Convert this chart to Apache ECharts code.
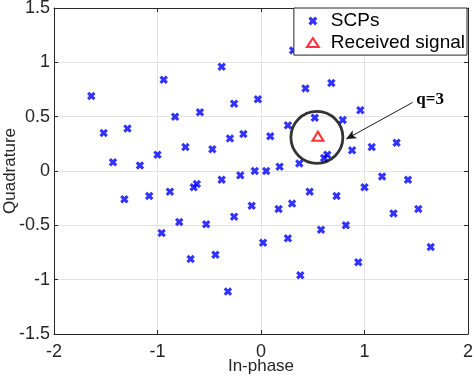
<!DOCTYPE html>
<html>
<head>
<meta charset="utf-8">
<script src="https://cdn.jsdelivr.net/npm/echarts@6/dist/echarts.min.js"></script>
<style>
html,body{margin:0;padding:0;background:#fff;}
#chart{width:474px;height:378px;}
</style>
</head>
<body>
<div id="chart"></div>
<script>
// SCP constellation points (in-phase, quadrature)
const scpI = [-1.64,-1.52,-1.43,-1.29,-1.17,-1.00,-0.94,-0.83,-0.73,-0.59,-0.47,-0.38,-0.26,-0.30,-0.38,-0.62,
              -0.65,-0.88,-0.20,0.31,0.43,0.68,-0.03,0.96,0.52,0.79,0.26,-0.17,0.09,0.88,1.07,1.31,
              0.64,0.61,0.37,0.18,0.05,-0.06,1.17,1.42,1.00,0.47,-1.32,-1.08,-0.79,-0.96,-0.53,-0.26,
              -0.68,-0.44,-0.32,-0.09,0.17,0.30,0.73,1.28,1.52,0.02,0.26,0.58,0.82,1.64,0.94,0.38];
const scpQ = [0.69,0.35,0.08,0.39,0.05,0.15,0.84,0.50,0.22,0.54,0.20,0.96,0.62,0.30,-0.08,-0.12,
              -0.15,-0.19,-0.04,1.11,0.76,0.81,0.66,0.56,0.49,0.47,0.42,0.34,0.32,0.19,0.22,0.26,
              0.15,0.12,0.07,0.04,0.00,0.00,-0.05,-0.08,-0.15,-0.19,-0.26,-0.23,-0.47,-0.57,-0.49,-0.42,
              -0.81,-0.77,-1.11,-0.32,-0.35,-0.30,-0.23,-0.39,-0.35,-0.66,-0.62,-0.54,-0.50,-0.70,-0.84,-0.96];
const receivedI = [0.55];
const receivedQ = [0.32];
const circleCenter = [0.54, 0.31];
const arrowFrom = [1.465, 0.631];
const arrowTo = [0.823, 0.294];
const annotPos = [1.50, 0.656];
const annotText = 'q=3';
const xTicks = { min: -2, max: 2, interval: 1 };
const yTicks = { min: -1.5, max: 1.5, interval: 0.5 };
const legendNames = ['SCPs', 'Received signal'];
const xName = 'In-phase';
const yName = 'Quadrature';

const scpData = scpI.map((v, i) => [v, scpQ[i]]);
const recData = receivedI.map((v, i) => [v, receivedQ[i]]);

const FONT = 'Liberation Sans, Arial, Helvetica, sans-serif';
const AX = '#262626';
const xPath = 'path://M0,2.6 L2.6,0 L5,2.4 L7.4,0 L10,2.6 L7.6,5 L10,7.4 L7.4,10 L5,7.6 L2.6,10 L0,7.4 L2.4,5 Z';

const chart = echarts.init(document.getElementById('chart'), null, { renderer: 'canvas' });

const baseAxisLine = { show: true, onZero: false, lineStyle: { color: AX, width: 1 } };
const tick = { show: true, inside: true, length: 4, lineStyle: { color: AX } };

chart.setOption({
  animation: false,
  backgroundColor: '#fff',
  grid: { left: 54, right: 6, top: 8, bottom: 44, containLabel: false, outerBoundsMode: 'none' },
  xAxis: [
    {
      type: 'value', min: xTicks.min, max: xTicks.max, interval: xTicks.interval,
      position: 'bottom',
      name: xName, nameLocation: 'middle', nameGap: 24, nameMoveOverlap: false,
      nameTextStyle: { fontFamily: FONT, fontSize: 17, color: AX },
      axisLine: baseAxisLine, axisTick: tick,
      axisLabel: { fontFamily: FONT, fontSize: 18, color: AX, margin: 9 },
      splitLine: { show: true, lineStyle: { color: '#e3e3e3', width: 1 } }
    },
    {
      type: 'value', min: xTicks.min, max: xTicks.max, interval: xTicks.interval,
      position: 'top',
      axisLine: baseAxisLine, axisTick: tick,
      axisLabel: { show: false }, splitLine: { show: false }
    }
  ],
  yAxis: [
    {
      type: 'value', min: yTicks.min, max: yTicks.max, interval: yTicks.interval,
      position: 'left',
      name: yName, nameLocation: 'middle', nameGap: 35, nameMoveOverlap: false,
      nameTextStyle: { fontFamily: FONT, fontSize: 17, color: AX },
      axisLine: baseAxisLine, axisTick: tick,
      axisLabel: { fontFamily: FONT, fontSize: 18, color: AX, margin: 4 },
      splitLine: { show: true, lineStyle: { color: '#e3e3e3', width: 1 } }
    },
    {
      type: 'value', min: yTicks.min, max: yTicks.max, interval: yTicks.interval,
      position: 'right',
      axisLine: baseAxisLine, axisTick: tick,
      axisLabel: { show: false }, splitLine: { show: false }
    }
  ],
  legend: {
    orient: 'vertical',
    right: 7, top: 8,
    z: 20,
    backgroundColor: '#fff',
    borderColor: AX, borderWidth: 1, borderRadius: 0,
    padding: [3.5, 2, 3, 12],
    itemGap: 2.6,
    itemWidth: 12, itemHeight: 9,
    textStyle: { fontFamily: FONT, fontSize: 19, color: '#000', padding: [0, 0, 0, 7] },
    data: legendNames,
    selectedMode: false
  },
  series: [
    {
      name: legendNames[0], type: 'scatter',
      data: scpData,
      symbol: xPath, symbolSize: 8.5, symbolKeepAspect: true,
      itemStyle: { color: '#0000ff' },
      silent: true, z: 3
    },
    {
      name: legendNames[1], type: 'scatter',
      data: recData,
      symbol: 'triangle', symbolSize: [11, 9],
      itemStyle: { color: 'transparent', borderColor: '#ff0000', borderWidth: 2 },
      silent: true, z: 4
    },
    {
      name: 'circle', type: 'scatter',
      data: [circleCenter],
      symbol: 'circle', symbolSize: 52,
      itemStyle: { color: 'transparent', borderColor: '#000', borderWidth: 2.8 },
      silent: true, z: 5,
      markLine: {
        silent: true,
        symbol: ['none', 'arrow'],
        symbolSize: [7, 10],
        label: { show: false },
        lineStyle: { color: '#1a1a1a', width: 1, type: 'solid' },
        data: [[{ coord: arrowFrom }, { coord: arrowTo }]]
      }
    }
  ]
});

const p = chart.convertToPixel({ gridIndex: 0 }, annotPos);
chart.setOption({
  graphic: [{
    type: 'text', x: p[0], y: p[1], z: 30,
    style: {
      text: annotText, fill: '#000',
      font: 'bold 17px "Liberation Serif", "Times New Roman", serif',
      textAlign: 'left', textVerticalAlign: 'middle'
    }
  }]
});
</script>
</body>
</html>
